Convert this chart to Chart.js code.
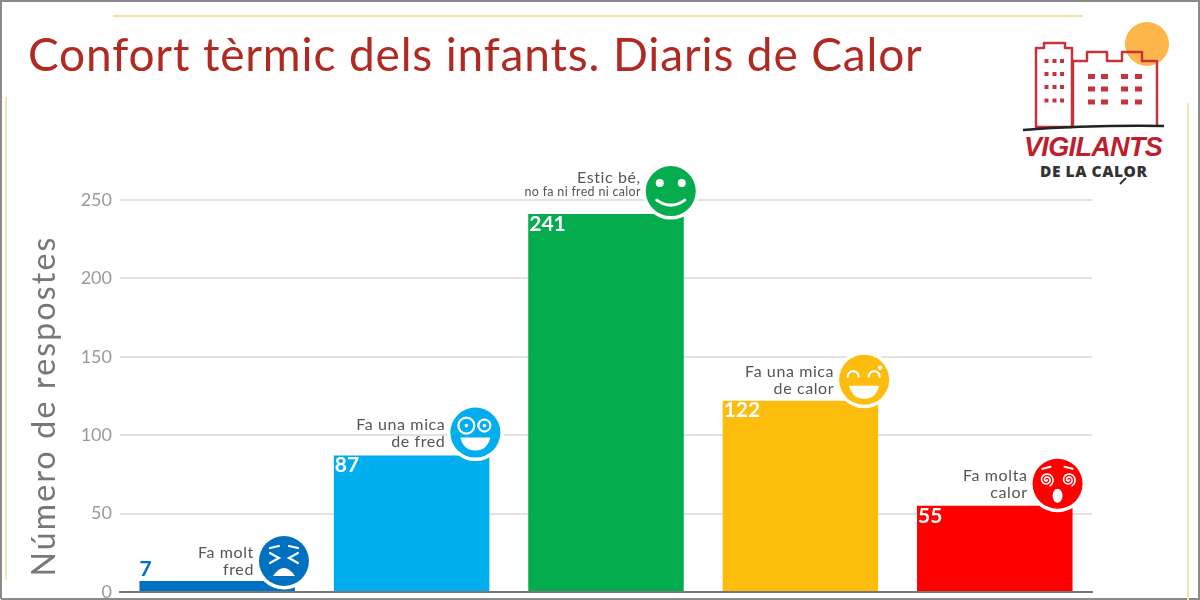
<!DOCTYPE html>
<html lang="ca">
<head>
<meta charset="utf-8">
<title>Confort tèrmic dels infants</title>
<script src="https://cdn.jsdelivr.net/npm/chart.js@4"></script>
<style>
    html, body { margin: 0; padding: 0; background: #fff; }
    #wrap { position: relative; width: 1200px; height: 600px; overflow: hidden; }
    #wrap svg, #chart, #title { position: absolute; left: 0; top: 0; }
    #title { left: 28px; top: 26px; font: 400 46px Lato, sans-serif; letter-spacing: 0.85px; color: #B02A22; white-space: nowrap; }
</style>
</head>
<body>
<div id="wrap">
    <svg width="1200" height="600" viewBox="0 0 1200 600">
        <!-- frame and hand drawn lines -->
        <path d="M1 599V1H1199V599H1" fill="none" stroke="#8a8a8a" stroke-width="2"/>
        <path d="M113 16H1083" stroke="#F8DFA0" stroke-width="2"/>
        <path d="M6 97V580" stroke="#F8E3AE" stroke-width="2"/>
        <path d="M1188 103V600" stroke="#F8E3AE" stroke-width="2"/>
        <!-- logo -->
        <circle cx="1147" cy="44" r="22" fill="#FDB64A"/>
        <g fill="#fff" stroke="#C8323A" stroke-width="2.5" stroke-linejoin="round">
            <path d="M1036 127V48H1044V43H1065V48H1072V127Z" fill="none"/>
            <path d="M1073 61H1087V52H1107V61H1122V52H1142V61H1157V125" fill="none"/>
            <path d="M1073 61V127" fill="none"/>
        </g>
        <g fill="#C8323A" id="windows"></g>
        <path d="M1023 130Q1090 125 1164 126" stroke="#222" stroke-width="2.5" fill="none"/>
        <text x="1024" y="156" font-family="Liberation Sans" font-weight="700" font-style="italic" font-size="27" letter-spacing="1.2" fill="#BE1E2D" textLength="140">VIGILANTS</text>
        <text x="1040" y="177" font-family="Open Sans" font-weight="800" font-size="15.5" fill="#333" textLength="107">DE LA CALOR</text>
        <path d="M1126 178L1120 184" stroke="#333" stroke-width="2"/>
    </svg>
    <canvas id="chart" width="1200" height="600"></canvas>
    <div id="title">Confort tèrmic dels infants. Diaris de Calor</div>
</div>
<script>
const categories = ["Fa molt fred", "Fa una mica de fred", "Estic bé", "Fa una mica de calor", "Fa molta calor"];
const values = [7, 87, 241, 122, 55];
const barColors = ["#0070C0", "#00AEEF", "#04AC4E", "#FDBD0C", "#FF0000"];
const yTicks = [0, 50, 100, 150, 200, 250];
const labelLines = [
    ["Fa molt", "fred"],
    ["Fa una mica", "de fred"],
    ["Estic bé,", "no fa ni fred ni calor"],
    ["Fa una mica", "de calor"],
    ["Fa molta", "calor"]
];
const yTitle = "Número de respostes";

// emoji centre relative to the bar's top right corner
const emojiOffsets = [[-11, -20], [-14, -23], [-13, -23], [-14, -21], [-15, -22]];
const emojiFaces = ["cold", "cool", "happy", "sweat", "dizzy"];

// windows of the logo
const windowsEl = document.getElementById("windows");
let windowRects = "";
[54, 67, 80, 93.5].forEach(y => [1044.5, 1052.5, 1060].forEach(x => {
    windowRects += `<rect x="${x}" y="${y + 5}" width="4" height="4"/>`;
}));
[74, 86.5, 99.5].forEach(y => [1088, 1101, 1121, 1135].forEach(x => {
    windowRects += `<rect x="${x}" y="${y}" width="7" height="5"/>`;
}));
windowsEl.innerHTML = windowRects;

function drawFace(ctx, face, x, y, r, color) {
    ctx.save();
    ctx.translate(x, y);
    ctx.beginPath();
    ctx.arc(0, 0, r + 3.5, 0, Math.PI * 2);
    ctx.fillStyle = "#fff";
    ctx.fill();
    ctx.beginPath();
    ctx.arc(0, 0, r, 0, Math.PI * 2);
    ctx.fillStyle = color;
    ctx.fill();
    ctx.strokeStyle = "#fff";
    ctx.fillStyle = "#fff";
    ctx.lineWidth = 2.2;
    ctx.lineCap = "round";
    const line = pts => {
        ctx.beginPath();
        pts.forEach((p, i) => i ? ctx.lineTo(p[0], p[1]) : ctx.moveTo(p[0], p[1]));
        ctx.stroke();
    };
    const grin = (top, w, h) => {
        ctx.beginPath();
        ctx.moveTo(-w, top);
        ctx.lineTo(w, top);
        ctx.quadraticCurveTo(w * 0.8, top + h * 1.3, 0, top + h * 1.3);
        ctx.quadraticCurveTo(-w * 0.8, top + h * 1.3, -w, top);
        ctx.fill();
    };
    if (face === "cold") {
        line([[-14, -13], [-5, -15]]);
        line([[14, -13], [5, -15]]);
        line([[-14, -8], [-5, -3], [-14, 2]]);
        line([[14, -8], [5, -3], [14, 2]]);
        ctx.beginPath();
        ctx.moveTo(-11, 15);
        ctx.quadraticCurveTo(0, -1, 11, 15);
        ctx.closePath();
        ctx.fill();
    } else if (face === "cool") {
        [[-9, -7, 8], [9, -7, 6]].forEach(e => {
            ctx.beginPath();
            ctx.arc(e[0], e[1], e[2], 0, Math.PI * 2);
            ctx.stroke();
            ctx.beginPath();
            ctx.arc(e[0], e[1], 1.8, 0, Math.PI * 2);
            ctx.fill();
        });
        grin(5, 15, 10);
    } else if (face === "happy") {
        [-11, 11].forEach(ex => {
            ctx.beginPath();
            ctx.arc(ex, -8, 4, 0, Math.PI * 2);
            ctx.fill();
        });
        ctx.lineWidth = 3;
        ctx.beginPath();
        ctx.moveTo(-14, 9);
        ctx.quadraticCurveTo(0, 19, 14, 9);
        ctx.stroke();
    } else if (face === "sweat") {
        [-11, 10].forEach(ex => {
            ctx.beginPath();
            ctx.arc(ex, -3, 5.5, Math.PI, 0);
            ctx.stroke();
        });
        ctx.beginPath();
        ctx.arc(16, -12, 2.2, 0, Math.PI * 2);
        ctx.fill();
        grin(6, 15, 10);
    } else {
        [-11, 11].forEach(ex => {
            ctx.beginPath();
            for (let a = 0; a < 14; a += 0.4) {
                const rr = 0.5 + a * 0.48;
                const px = ex + rr * Math.cos(a), py = -4 + rr * Math.sin(a);
                a === 0 ? ctx.moveTo(px, py) : ctx.lineTo(px, py);
            }
            ctx.lineWidth = 1.6;
            ctx.stroke();
        });
        ctx.lineWidth = 2.2;
        line([[-15, -15], [-7, -17]]);
        line([[15, -15], [7, -17]]);
        ctx.beginPath();
        ctx.ellipse(0, 12, 5, 7, 0, 0, Math.PI * 2);
        ctx.fill();
    }
    ctx.restore();
}

const annotations = {
    id: "annotations",
    afterDatasetsDraw(chart) {
        const ctx = chart.ctx;
        const bars = chart.getDatasetMeta(0).data;
        const yScale = chart.scales.y;

        ctx.save();
        // axis title
        ctx.save();
        ctx.translate(45, yScale.getPixelForValue(0) - 186);
        ctx.rotate(-Math.PI / 2);
        ctx.font = "400 32px Lato, sans-serif";
        ctx.letterSpacing = "2.2px";
        ctx.fillStyle = "#777";
        ctx.textAlign = "center";
        ctx.textBaseline = "middle";
        ctx.fillText(yTitle, 0, 0);
        ctx.restore();

        bars.forEach((bar, i) => {
            const right = bar.x + bar.width / 2;
            const left = bar.x - bar.width / 2;
            const top = yScale.getPixelForValue(values[i]);

            // value
            ctx.font = "700 21px Lato, sans-serif";
            ctx.textAlign = "left";
            ctx.textBaseline = "middle";
            if (values[i] < 20) {
                ctx.fillStyle = barColors[i];
                ctx.fillText(values[i], left, top - 12);
            } else {
                ctx.fillStyle = "#fff";
                ctx.fillText(values[i], left + 1, top + 10);
            }

            // label and emoji
            const cx = right + emojiOffsets[i][0];
            const cy = top + emojiOffsets[i][1];
            drawFace(ctx, emojiFaces[i], cx, cy, 25, barColors[i]);

            ctx.fillStyle = "#555";
            ctx.textAlign = "right";
            const textRight = cx - 30;
            ctx.font = "400 16px Lato, sans-serif";
            ctx.letterSpacing = "0.6px";
            if (i === 2) {
                ctx.fillText(labelLines[i][0], textRight, cy - 13);
                ctx.font = "400 12.5px Lato, sans-serif";
                ctx.letterSpacing = "0.3px";
                ctx.fillText(labelLines[i][1], textRight, cy + 1);
            } else {
                ctx.fillText(labelLines[i][0], textRight, cy - 8);
                ctx.fillText(labelLines[i][1], textRight, cy + 9);
            }
            ctx.letterSpacing = "0px";
        });
        ctx.restore();
    }
};

new Chart(document.getElementById("chart"), {
    type: "bar",
    data: {
        labels: categories,
        datasets: [{
            data: values,
            backgroundColor: barColors,
            barPercentage: 0.8,
            categoryPercentage: 1
        }]
    },
    options: {
        responsive: false,
        animation: false,
        layout: { padding: { left: 0, right: 108, top: 200, bottom: 8 } },
        plugins: {
            legend: { display: false },
            tooltip: { enabled: false }
        },
        scales: {
            x: {
                afterFit(scale) { scale.height = 0; },
                grid: { display: false },
                ticks: { display: false },
                border: { display: true, color: "#777", width: 2 }
            },
            y: {
                min: 0,
                max: 250,
                afterFit(scale) {
                    scale.width = 120;
                    scale.paddingTop = 0;
                    scale.paddingBottom = 0;
                },
                afterBuildTicks(scale) { scale.ticks = yTicks.map(v => ({ value: v })); },
                grid: { color: "#E2E2E2", lineWidth: 2, drawTicks: false },
                border: { display: false },
                ticks: {
                    color: "#9a9a9a",
                    padding: 8,
                    font: { family: "Lato, sans-serif", size: 18 }
                }
            }
        }
    },
    plugins: [annotations]
});
</script>
</body>
</html>
